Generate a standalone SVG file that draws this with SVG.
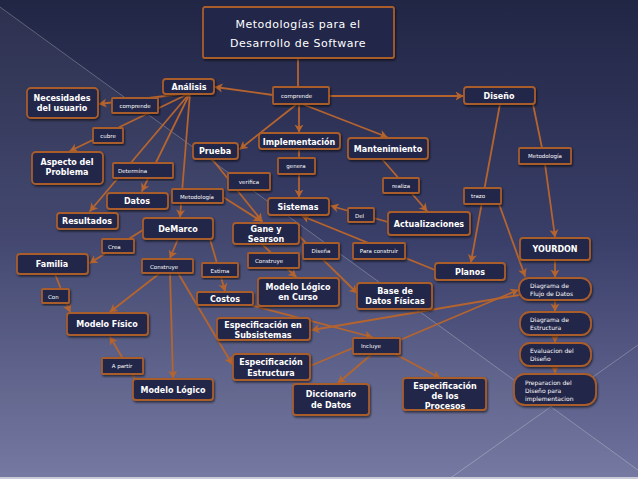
<svg xmlns="http://www.w3.org/2000/svg" width="638" height="479" viewBox="0 0 638 479">
<defs>
<linearGradient id="bg" x1="0" y1="0" x2="0" y2="1">
<stop offset="0" stop-color="#222645"/>
<stop offset="0.5" stop-color="#3a3f69"/>
<stop offset="1" stop-color="#6f739d"/>
</linearGradient>
<filter id="sh" x="-20%" y="-20%" width="140%" height="140%">
<feDropShadow dx="1" dy="1.5" stdDeviation="1.2" flood-color="#000" flood-opacity="0.6"/>
</filter>
<marker id="ar" markerUnits="userSpaceOnUse" markerWidth="10" markerHeight="10" refX="7.5" refY="5" orient="auto">
<path d="M0,0.5 L8,5 L0,9.5 L2.2,5 Z" fill="#b5642e"/>
</marker>
<style>
.c{fill:none;stroke:#b5642e;stroke-width:1.8;stroke-linecap:round}
.a{marker-end:url(#ar)}
.b{fill:#232648;stroke:#a85d2c;stroke-width:1.8;filter:url(#sh)}
.t{font-family:"DejaVu Sans","Liberation Sans",sans-serif;fill:#ffffff}
.n{font-size:8px;font-weight:bold;text-anchor:middle}
.l{font-size:5.5px}
.m{text-anchor:middle}
.p{font-size:6px}
.ti{font-size:11px;text-anchor:middle;letter-spacing:0.5px}
</style>
</defs>
<rect width="638" height="479" fill="url(#bg)"/>
<polygon points="0,7 638,470 638,479 0,479" fill="#ffffff" fill-opacity="0.05"/>
<line x1="0" y1="7" x2="638" y2="470" stroke="#ffffff" stroke-opacity="0.25" stroke-width="1"/>
<line x1="449" y1="479" x2="638" y2="345" stroke="#ffffff" stroke-opacity="0.25" stroke-width="1"/>
<rect x="0" y="477" width="638" height="2" fill="#c9cbd8"/>

<g id="connectors">
<path class="c" d="M298,58 L298,87"/>
<path class="c a" d="M273,95 L215,87"/>
<path class="c a" d="M329,96 L463,96"/>
<path class="c a" d="M299,104 L299,132"/>
<path class="c a" d="M297,104 L240,149"/>
<path class="c a" d="M302,104 L387,137"/>
<path class="c a" d="M190,93 L99,104"/>
<path class="c a" d="M190,93 L70,151"/>
<path class="c a" d="M190,93 L90,211"/>
<path class="c a" d="M190,93 L142,191"/>
<path class="c a" d="M190,93 L180,217"/>
<path class="c a" d="M223,197 L261,221"/>
<path class="c a" d="M212,159 L262,221"/>
<path class="c a" d="M299,149 L299,197"/>
<path class="c a" d="M382,159 L427,211"/>
<path class="c a" d="M388,222 L331,206"/>
<path class="c a" d="M435,270 L302,216"/>
<path class="c a" d="M298,235 L357,293"/>
<path class="c a" d="M262,244 L296,277"/>
<path class="c a" d="M143,230 L90,263"/>
<path class="c a" d="M178,239 L170,258"/>
<path class="c a" d="M210,239 L225,291"/>
<path class="c a" d="M160,273 L110,312"/>
<path class="c a" d="M170,273 L173,378"/>
<path class="c a" d="M178,273 L232,364"/>
<path class="c a" d="M55,274 L70,312"/>
<path class="c a" d="M135,379 L110,337"/>
<path class="c a" d="M250,305 L372,337"/>
<path class="c" d="M353,348 L310,366"/>
<path class="c a" d="M372,354 L338,383"/>
<path class="c a" d="M395,354 L440,378"/>
<path class="c a" d="M400,340 L518,290"/>
<path class="c a" d="M519,295 L312,330"/>
<path class="c a" d="M500,104 L471,262"/>
<path class="c a" d="M499,204 L525,276"/>
<path class="c" d="M533,104 L542,148"/>
<path class="c a" d="M545,164 L555,237"/>
<path class="c a" d="M555,260 L555,277"/>
<path class="c a" d="M555,300 L555,311"/>
<path class="c a" d="M555,335 L555,342"/>
<path class="c a" d="M555,366 L555,373"/>
</g>

<g id="titulo"><rect class="b" x="203" y="7" width="191" height="51" rx="2"/>
<text class="t ti" x="298" y="28">Metodologías para el</text>
<text class="t ti" x="298" y="47">Desarrollo de Software</text></g>

<g id="analisis"><rect class="b" x="163" y="79" width="51" height="15" rx="3"/><text class="t n" x="189" y="89.5">Análisis</text></g>
<g id="necesidades"><rect class="b" x="27" y="88" width="71" height="30" rx="4"/><text class="t n" x="62" y="101" font-weight="normal">Necesidades</text><text class="t n" x="62" y="111" font-weight="normal">del usuario</text></g>
<g id="aspecto"><rect class="b" x="32" y="152" width="71" height="32" rx="4"/><text class="t n" x="67" y="165">Aspecto del</text><text class="t n" x="67" y="175">Problema</text></g>
<g id="datos"><rect class="b" x="107" y="193" width="61" height="16" rx="3"/><text class="t n" x="137" y="204">Datos</text></g>
<g id="resultados"><rect class="b" x="57" y="213" width="61" height="16" rx="3"/><text class="t n" x="87" y="224">Resultados</text></g>
<g id="demarco"><rect class="b" x="143" y="218" width="70" height="21" rx="3"/><text class="t n" x="178" y="231.5">DeMarco</text></g>
<g id="familia"><rect class="b" x="17" y="254" width="71" height="20" rx="3"/><text class="t n" x="52" y="267">Familia</text></g>
<g id="costos"><rect class="b" x="197" y="292" width="56" height="13" rx="2"/><text class="t n" x="225" y="301.5">Costos</text></g>
<g id="modelo-fisico"><rect class="b" x="67" y="313" width="81" height="22" rx="3"/><text class="t n" x="107" y="327">Modelo Físico</text></g>
<g id="modelo-logico"><rect class="b" x="133" y="379" width="80" height="21" rx="3"/><text class="t n" x="173" y="392.5">Modelo Lógico</text></g>
<g id="prueba"><rect class="b" x="193" y="143" width="45" height="16" rx="3"/><text class="t n" x="215" y="154">Prueba</text></g>
<g id="implementacion"><rect class="b" x="259" y="133" width="81" height="16" rx="3"/><text class="t n" x="299" y="144.5">Implementación</text></g>
<g id="mantenimiento"><rect class="b" x="348" y="138" width="80" height="21" rx="3"/><text class="t n" x="388" y="151.5">Mantenimiento</text></g>
<g id="diseno"><rect class="b" x="464" y="87" width="71" height="17" rx="3"/><text class="t n" x="499" y="98.5" font-weight="normal">Diseño</text></g>
<g id="sistemas"><rect class="b" x="268" y="198" width="61" height="17" rx="3"/><text class="t n" x="298" y="209.5">Sistemas</text></g>
<g id="actualizaciones"><rect class="b" x="388" y="212" width="82" height="23" rx="3"/><text class="t n" x="429" y="226.5">Actualizaciones</text></g>
<g id="gane-searson"><rect class="b" x="233" y="223" width="66" height="21" rx="3"/><text class="t n" x="266" y="231.5">Gane  y</text><text class="t n" x="266" y="241.5">Searson</text></g>
<g id="modelo-logico-curso"><rect class="b" x="258" y="278" width="81" height="28" rx="3"/><text class="t n" x="298" y="290">Modelo Lógico</text><text class="t n" x="298" y="300">en Curso</text></g>
<g id="base-datos"><rect class="b" x="357" y="283" width="75" height="26" rx="3"/><text class="t n" x="395" y="294" font-weight="normal">Base de</text><text class="t n" x="395" y="304" font-weight="normal">Datos Físicas</text></g>
<g id="planos"><rect class="b" x="435" y="263" width="70" height="17" rx="3"/><text class="t n" x="470" y="274.5">Planos</text></g>
<g id="yourdon"><rect class="b" x="520" y="238" width="70" height="22" rx="3"/><text class="t n" x="555" y="252" font-weight="normal">YOURDON</text></g>
<g id="esp-subsistemas"><rect class="b" x="217" y="318" width="93" height="22" rx="3"/><text class="t n" x="263" y="328">Especificación en</text><text class="t n" x="263" y="337.5">Subsistemas</text></g>
<g id="esp-estructura"><rect class="b" x="233" y="354" width="77" height="26" rx="3"/><text class="t n" x="271" y="365">Especificación</text><text class="t n" x="271" y="375.5">Estructura</text></g>
<g id="diccionario"><rect class="b" x="293" y="384" width="76" height="31" rx="3"/><text class="t n" x="331" y="397" font-weight="normal">Diccionario</text><text class="t n" x="331" y="408" font-weight="normal">de Datos</text></g>
<g id="esp-procesos"><rect class="b" x="403" y="378" width="83" height="32" rx="3"/><text class="t n" x="445" y="389" font-weight="normal">Especificación</text><text class="t n" x="445" y="399" font-weight="normal">de los</text><text class="t n" x="445" y="409" font-weight="normal">Procesos</text></g>

<g id="diagrama-flujo"><rect class="b" x="519" y="278" width="72" height="22" rx="10"/><text class="t p" x="530" y="287.5">Diagrama de</text><text class="t p" x="530" y="296">Flujo de Datos</text></g>
<g id="diagrama-estructura"><rect class="b" x="520" y="312" width="71" height="23" rx="10"/><text class="t p" x="530" y="321.5">Diagrama de</text><text class="t p" x="530" y="330">Estructura</text></g>
<g id="evaluacion"><rect class="b" x="520" y="343" width="71" height="23" rx="10"/><text class="t p" x="530" y="352.5">Evaluacion del</text><text class="t p" x="530" y="361">Diseño</text></g>
<g id="preparacion"><rect class="b" x="514" y="374" width="82" height="31" rx="11"/><text class="t p" x="525" y="385">Preparacion del</text><text class="t p" x="525" y="393">Diseño para</text><text class="t p" x="525" y="401">implementacion</text></g>

<g id="lbl-comprende-top"><rect class="b" x="273" y="87" width="56" height="17" rx="1"/><text class="t l" x="281" y="98">comprende</text></g>
<g id="lbl-comprende-left"><rect class="b" x="112" y="98" width="46" height="15" rx="1"/><text class="t l m" x="135" y="108">comprende</text></g>
<g id="lbl-cubre"><rect class="b" x="93" y="128" width="30" height="15" rx="1"/><text class="t l m" x="108" y="138">cubre</text></g>
<g id="lbl-determina"><rect class="b" x="113" y="163" width="60" height="15" rx="1"/><text class="t l" x="118" y="173">Determina</text></g>
<g id="lbl-metodologia-l"><rect class="b" x="172" y="189" width="51" height="14" rx="1"/><text class="t l m" x="197" y="198.5">Metodología</text></g>
<g id="lbl-crea"><rect class="b" x="102" y="239" width="32" height="14" rx="1"/><text class="t l" x="108" y="248.5">Crea</text></g>
<g id="lbl-construye-l"><rect class="b" x="142" y="259" width="51" height="14" rx="1"/><text class="t l" x="150" y="268.5">Construye</text></g>
<g id="lbl-estima"><rect class="b" x="202" y="263" width="36" height="14" rx="1"/><text class="t l m" x="220" y="272.5">Estima</text></g>
<g id="lbl-con"><rect class="b" x="42" y="289" width="27" height="14" rx="1"/><text class="t l" x="48" y="298.5">Con</text></g>
<g id="lbl-a-partir"><rect class="b" x="102" y="358" width="41" height="16" rx="1"/><text class="t l m" x="122" y="368">A partir</text></g>
<g id="lbl-genera"><rect class="b" x="278" y="158" width="37" height="16" rx="1"/><text class="t l m" x="296" y="168">genera</text></g>
<g id="lbl-verifica"><rect class="b" x="228" y="173" width="42" height="17" rx="1"/><text class="t l m" x="249" y="183.5">verifica</text></g>
<g id="lbl-realiza"><rect class="b" x="383" y="178" width="36" height="15" rx="1"/><text class="t l m" x="401" y="188">realiza</text></g>
<g id="lbl-del"><rect class="b" x="348" y="208" width="26" height="14" rx="1"/><text class="t l" x="355" y="217.5">Del</text></g>
<g id="lbl-disena"><rect class="b" x="303" y="243" width="36" height="16" rx="1"/><text class="t l m" x="321" y="253">Diseña</text></g>
<g id="lbl-para-construir"><rect class="b" x="353" y="243" width="52" height="16" rx="1"/><text class="t l m" x="379" y="253">Para construir</text></g>
<g id="lbl-construye-m"><rect class="b" x="248" y="253" width="51" height="15" rx="1"/><text class="t l" x="255" y="263">Construye</text></g>
<g id="lbl-trazo"><rect class="b" x="464" y="188" width="37" height="16" rx="1"/><text class="t l" x="471" y="198">trazo</text></g>
<g id="lbl-metodologia-r"><rect class="b" x="519" y="148" width="52" height="16" rx="1"/><text class="t l m" x="545" y="158">Metodología</text></g>
<g id="lbl-incluye"><rect class="b" x="353" y="338" width="47" height="16" rx="1"/><text class="t l" x="361" y="348">Incluye</text></g>
</svg>
